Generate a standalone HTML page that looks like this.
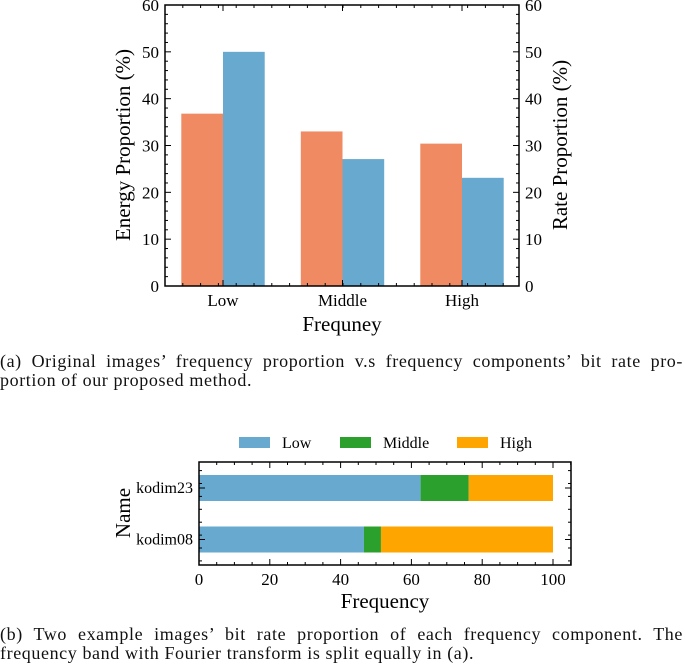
<!DOCTYPE html>
<html><head><meta charset="utf-8"><style>
body{margin:0;background:#fff;width:685px;height:669px;overflow:hidden;font-family:"Liberation Serif",serif;}
.cap{position:absolute;left:0;width:683px;font-size:18px;letter-spacing:0.6px;line-height:19px;color:#111;white-space:nowrap;}
.j{text-align:justify;text-align-last:justify;}
</style></head><body>
<svg id="c" width="685" height="669" style="position:absolute;left:0;top:0"></svg>
<div>
<div class="cap j" style="top:352px">(a) Original images’ frequency proportion v.s frequency components’ bit rate pro-</div>
<div class="cap" style="top:371px">portion of our proposed method.</div>
</div>
<div>
<div class="cap j" style="top:625px">(b) Two example images’ bit rate proportion of each frequency component. The</div>
<div class="cap" style="top:644px">frequency band with Fourier transform is split equally in (a).</div>
</div>
<script>
const catsA=["Low","Middle","High"];
const energy=[36.8,33.0,30.4];
const rate=[50.0,27.1,23.1];
const yTicksA=[0,10,20,30,40,50,60];
const namesB=["kodim23","kodim08"];
const lowB=[62.6,46.6];
const midB=[13.6,4.8];
const highB=[23.8,48.6];
const xTicksB=[0,20,40,60,80,100];
const NS="http://www.w3.org/2000/svg";
const svg=document.getElementById('c');
function mk(t,a,txt){const e=document.createElementNS(NS,t);for(const k in a)e.setAttribute(k,a[k]);if(txt!=null)e.textContent=txt;svg.appendChild(e);return e;}
const aL=165,aR=519,aT=5,aB=286;
const yA=v=>aB-(v/60)*(aB-aT);
const xA=i=>223+i*119.5;
const bw=41.7;
catsA.forEach((c,i)=>{
 let r=mk('rect',{x:xA(i)-bw,y:yA(energy[i]),width:bw,height:aB-yA(energy[i]),fill:'#ef8a62'});
 
 
 r=mk('rect',{x:xA(i),y:yA(rate[i]),width:bw,height:aB-yA(rate[i]),fill:'#67a9cf'});
 
 
 let t=mk('text',{x:xA(i),y:aB+20,'text-anchor':'middle','font-size':17},c);
 
 
 mk('line',{x1:xA(i),x2:xA(i),y1:aB,y2:aB-6,stroke:'#000'});
 mk('line',{x1:xA(i),x2:xA(i),y1:aT,y2:aT+6,stroke:'#000'});
});
for(let x=aL+17.8;x<aR;x+=17.8){mk('line',{x1:x,x2:x,y1:aB,y2:aB-3,stroke:'#000'});mk('line',{x1:x,x2:x,y1:aT,y2:aT+3,stroke:'#000'});}
for(let v=0;v<=60;v+=2){const y=yA(v),L=v%10==0?6:3;mk('line',{x1:aL,x2:aL+L,y1:y,y2:y,stroke:'#000'});mk('line',{x1:aR,x2:aR-L,y1:y,y2:y,stroke:'#000'});}
yTicksA.forEach(v=>{
 let t=mk('text',{x:aL-6,y:yA(v)+6,'text-anchor':'end','font-size':17},v);
 
 
 t=mk('text',{x:aR+6,y:yA(v)+6,'font-size':17},v);
 
 
});
let f=mk('rect',{x:aL,y:aT,width:aR-aL,height:aB-aT,fill:'none',stroke:'#000','stroke-width':1.5});

let t=mk('text',{x:342,y:331,'text-anchor':'middle','font-size':21},'Frequney');

t=mk('text',{x:0,y:0,transform:'translate(130,145) rotate(-90)','text-anchor':'middle','font-size':21},'Energy Proportion (%)');

t=mk('text',{x:0,y:0,transform:'translate(567,145) rotate(-90)','text-anchor':'middle','font-size':21},'Rate Proportion (%)');

const bL=199,bR=571,bT=462,bB=565;
const xB=v=>bL+v*3.54;
const yB=i=>488+i*51.5;
const bh=26;
const cols=['#67a9cf','#2ca02c','#ffa500'];
namesB.forEach((n,i)=>{
 const segs=[lowB[i],midB[i],highB[i]];let acc=0;
 segs.forEach((s,k)=>{
  const r=mk('rect',{x:xB(acc),y:yB(i)-bh/2,width:xB(acc+s)-xB(acc),height:bh,fill:cols[k]});
  
  
  acc+=s;
 });
 const tt=mk('text',{x:bL-6,y:yB(i)+5,'text-anchor':'end','font-size':16},n);
 
 
 mk('line',{x1:bL,x2:bL+6,y1:yB(i),y2:yB(i),stroke:'#000'});mk('line',{x1:bR,x2:bR-6,y1:yB(i),y2:yB(i),stroke:'#000'});
});
for(let y=bT+8.6;y<bB;y+=8.6*1.5){mk('line',{x1:bL,x2:bL+3,y1:y,y2:y,stroke:'#000'});mk('line',{x1:bR,x2:bR-3,y1:y,y2:y,stroke:'#000'});}
for(let v=0;v<=105;v+=5){const x=xB(v),L=v%20==0?6:3;mk('line',{x1:x,x2:x,y1:bB,y2:bB-L,stroke:'#000'});mk('line',{x1:x,x2:x,y1:bT,y2:bT+L,stroke:'#000'});}
xTicksB.forEach(v=>{
 const tt=mk('text',{x:xB(v),y:bB+20,'text-anchor':'middle','font-size':17},v);
 
 
});
f=mk('rect',{x:bL,y:bT,width:bR-bL,height:bB-bT,fill:'none',stroke:'#000','stroke-width':1.5});

t=mk('text',{x:385,y:608,'text-anchor':'middle','font-size':21},'Frequency');

t=mk('text',{x:0,y:0,transform:'translate(130,513) rotate(-90)','text-anchor':'middle','font-size':21},'Name');

const legX=[239,340,457],legN=['Low','Middle','High'];
legN.forEach((n,k)=>{
 const r=mk('rect',{x:legX[k],y:437,width:31,height:11,fill:cols[k]});
 
 
 const tt=mk('text',{x:legX[k]+43,y:448,'font-size':16},n);
 
 
});
</script>
</body></html>
